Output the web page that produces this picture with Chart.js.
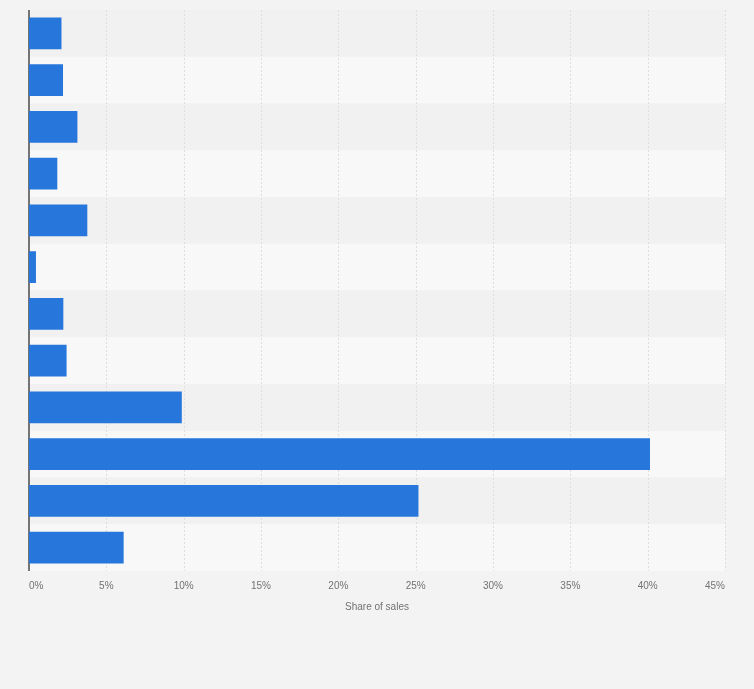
<!DOCTYPE html>
<html>
<head>
<meta charset="utf-8">
<script src="https://cdn.jsdelivr.net/npm/chart.js@4"></script>
<style>
  html, body { margin: 0; padding: 0; background: #f3f3f3; }
  #wrap { width: 754px; height: 689px; }
</style>
</head>
<body>
<div id="wrap"><canvas id="chart" width="754" height="689"></canvas></div>
<script>
// data
const categories = ['Category 1','Category 2','Category 3','Category 4','Category 5','Category 6',
                    'Category 7','Category 8','Category 9','Category 10','Category 11','Category 12'];
const shareValues = [2.1, 2.2, 3.13, 1.83, 3.77, 0.45, 2.22, 2.43, 9.88, 40.15, 25.18, 6.12];
const xTicks = [0, 5, 10, 15, 20, 25, 30, 35, 40, 45];

const BAR_COLOR = '#2676db';

// alternating row bands behind the bars
const bandsPlugin = {
  id: 'bands',
  beforeDatasetsDraw(chart){
    const {ctx, chartArea, scales} = chart;
    const y = scales.y;
    const n = categories.length;
    const step = (chartArea.bottom - chartArea.top) / n;
    ctx.save();
    for(let i = 0; i < n; i++){
      const cy = y.getPixelForValue(i);
      ctx.fillStyle = i % 2 === 0 ? '#f1f1f1' : '#f8f8f8';
      ctx.fillRect(chartArea.left, cy - step/2, chartArea.right - chartArea.left, step);
    }
    ctx.restore();
  }
};

// dashed vertical gridlines + dark axis line, on top of the bands
const gridPlugin = {
  id: 'gridOver',
  beforeDatasetsDraw(chart){
    const {ctx, chartArea, scales} = chart;
    const x = scales.x;
    ctx.save();
    ctx.strokeStyle = '#dedede';
    ctx.lineWidth = 1;
    ctx.setLineDash([2, 2]);
    xTicks.forEach(t => {
      if(t === 0) return;
      const px = Math.round(x.getPixelForValue(t)) + 0.5;
      ctx.beginPath();
      ctx.moveTo(px, chartArea.top);
      ctx.lineTo(px, chartArea.bottom);
      ctx.stroke();
    });
    ctx.setLineDash([]);
    ctx.strokeStyle = '#4a4a4a';
    ctx.lineWidth = 1.5;
    const ax = x.getPixelForValue(0);
    ctx.beginPath();
    ctx.moveTo(ax, chartArea.top);
    ctx.lineTo(ax, chartArea.bottom);
    ctx.stroke();
    ctx.restore();
  }
};

new Chart(document.getElementById('chart'), {
  type: 'bar',
  data: {
    labels: categories,
    datasets: [{
      data: shareValues,
      backgroundColor: BAR_COLOR,
      borderWidth: 0,
      categoryPercentage: 1,
      barPercentage: 0.68
    }]
  },
  options: {
    indexAxis: 'y',
    responsive: false,
    animation: false,
    layout: { padding: { left: 29, right: 29, top: 10, bottom: 76 } },
    plugins: { legend: { display: false }, tooltip: { enabled: false } },
    scales: {
      x: {
        min: 0, max: 45,
        afterBuildTicks(axis){ axis.ticks = xTicks.map(v => ({ value: v })); },
        grid: { display: false, drawTicks: false },
        border: { display: false },
        ticks: {
          align: 'inner',
          padding: 9,
          color: '#727272',
          font: { family: 'Liberation Sans, Arial, sans-serif', size: 10 },
          callback: v => v + '%'
        },
        title: {
          display: true,
          text: 'Share of sales',
          color: '#727272',
          padding: { top: 0, bottom: 0 },
          font: { family: 'Liberation Sans, Arial, sans-serif', size: 10 }
        }
      },
      y: {
        grid: { display: false, drawTicks: false },
        border: { display: false },
        ticks: { display: false }
      }
    }
  },
  plugins: [bandsPlugin, gridPlugin]
});
</script>
</body>
</html>
